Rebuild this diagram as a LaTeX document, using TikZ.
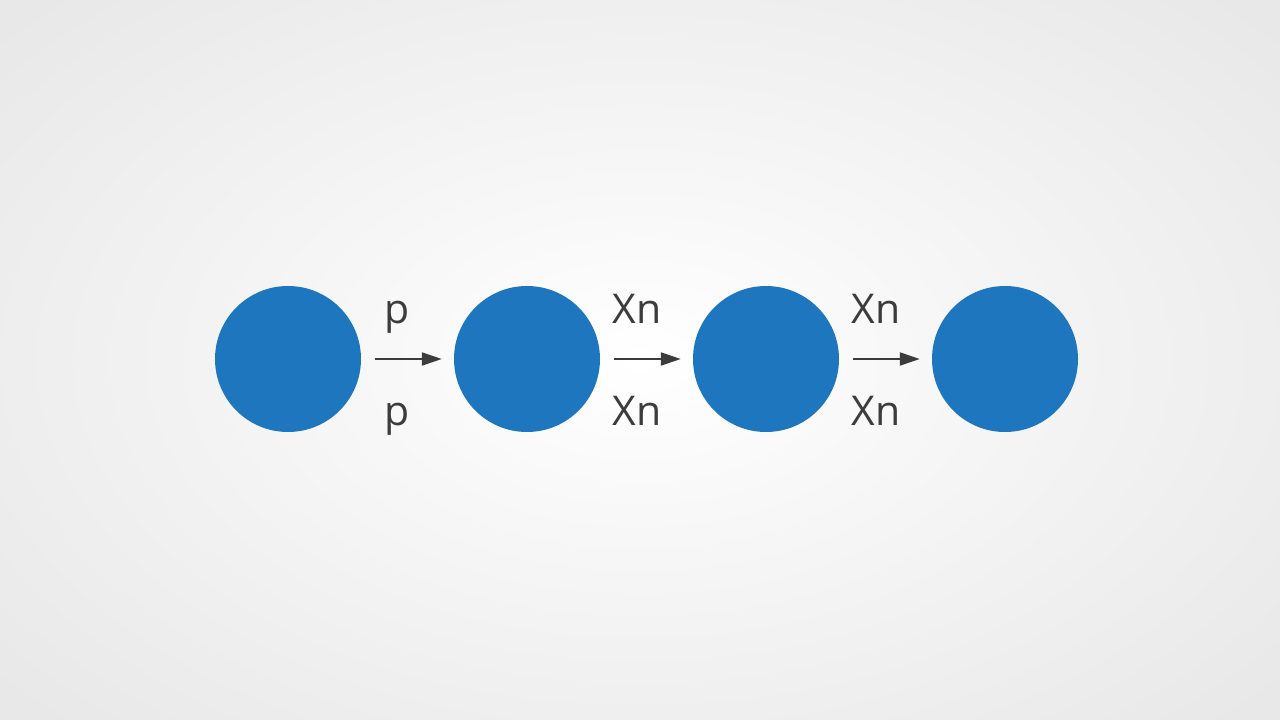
\documentclass[tikz,border=0pt]{standalone}
\usepackage{fontspec}
\setmainfont{Open Sans}
\usetikzlibrary{arrows.meta}
\definecolor{dotblue}{HTML}{1E77BE}
\definecolor{ink}{HTML}{3C3C3C}
\begin{document}
\begin{tikzpicture}[x=1pt,y=-1pt,
  dot/.style={circle,fill=dotblue,minimum size=146pt,inner sep=0pt},
  lbl/.style={anchor=base,text=ink,font=\fontsize{41}{41}\selectfont,inner sep=0pt},
  conn/.style={draw=ink,line width=2pt,-{Triangle[length=20pt,width=13pt]},shorten <=14pt,shorten >=12pt}]
\useasboundingbox (0,0) rectangle (1280,720);
\shade[inner color=white,outer color=black!9] (-200,-150) rectangle (1480,870);
\node[dot] (c1) at (288,359) {};
\node[dot] (c2) at (527,359) {};
\node[dot] (c3) at (766,359) {};
\node[dot] (c4) at (1005,359) {};
\draw[conn] (c1) -- (c2);
\draw[conn] (c2) -- (c3);
\draw[conn] (c3) -- (c4);
\node[lbl] (t1) at (397,323) {p};
\node[lbl] (b1) at (397,425) {p};
\node[lbl] (t2) at (637,323) {Xn};
\node[lbl] (b2) at (637,425) {Xn};
\node[lbl] (t3) at (876,323) {Xn};
\node[lbl] (b3) at (876,425) {Xn};
\end{tikzpicture}
\end{document}
